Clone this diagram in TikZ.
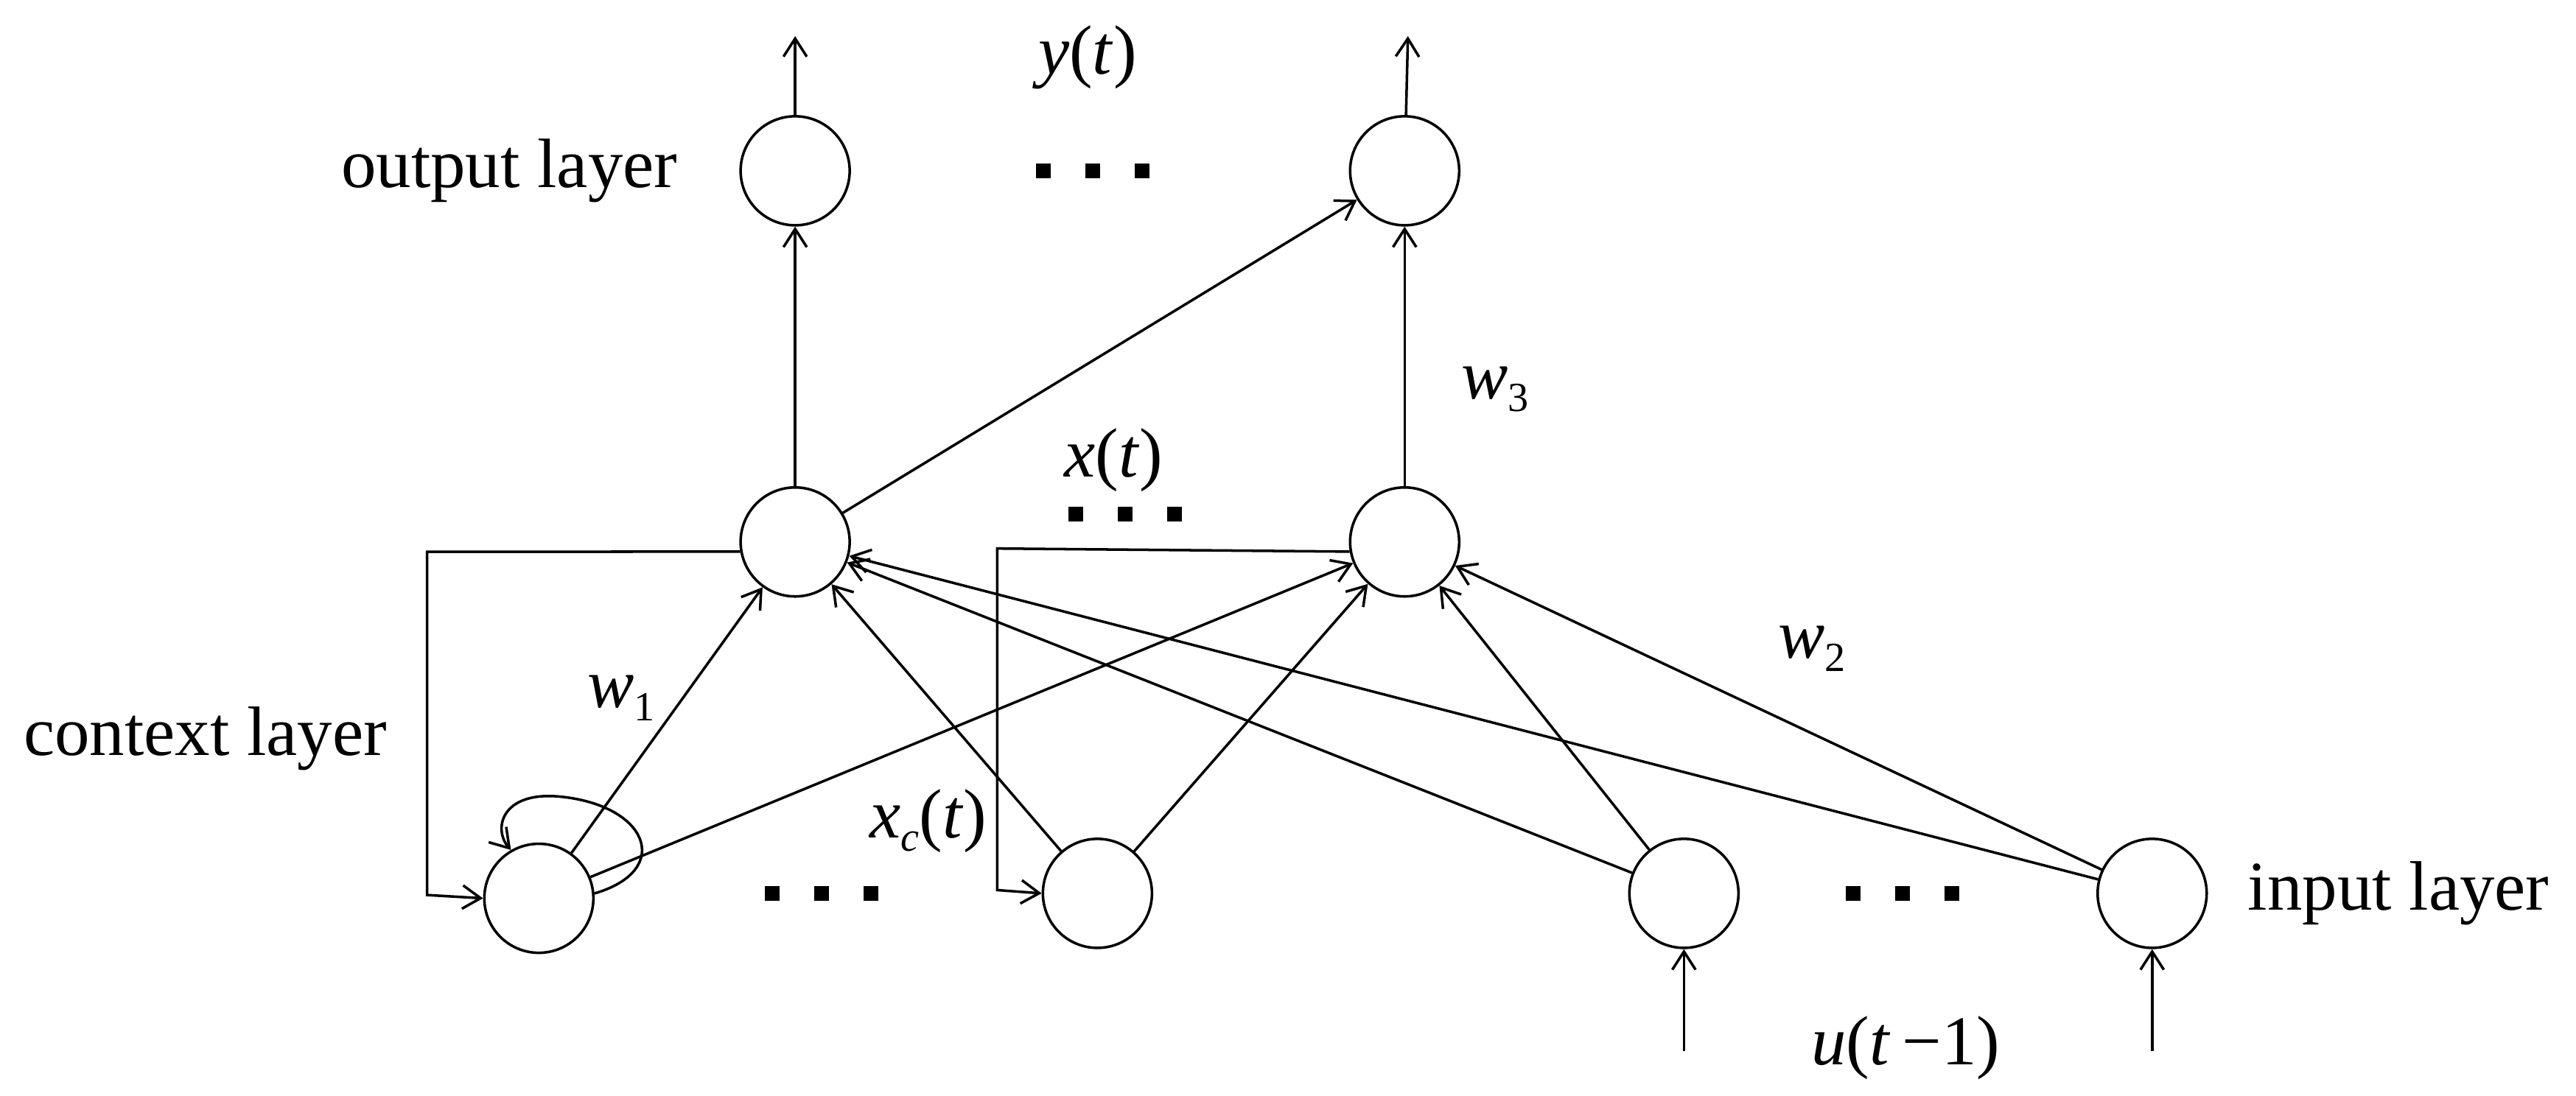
\documentclass[tikz,border=0pt]{standalone}
\usepackage{fontspec}
\setmainfont{Liberation Serif}
\usetikzlibrary{arrows.meta}
\begin{document}
\begin{tikzpicture}[x=0.0223cm,y=-0.0223cm,
 neu/.style={circle,draw,line width=1pt,minimum size=1.48cm,inner sep=0pt},
 arr/.style={line width=1pt,-{Straight Barb[length=7pt,width=9pt]}},
 txt/.style={font=\fontsize{27}{32}\selectfont},
 sub/.style={font=\fontsize{16}{18}\selectfont\itshape}]
\useasboundingbox (0,0) rectangle (1568,667);
\node[neu] (O1) at (484,104) {};
\node[neu] (O2) at (855,104) {};
\node[neu] (H1) at (484,330) {};
\node[neu] (H2) at (855,330) {};
\node[neu] (C1) at (328,547) {};
\node[neu] (C2) at (668,544) {};
\node[neu] (I1) at (1025,544) {};
\node[neu] (I2) at (1310,544) {};
\foreach \cx/\cy in {665/104,685/313,500/544,1158/544}
  \foreach \d in {-30,0,30} \fill (\cx+\d-4.5,\cy-4.5) rectangle (\cx+\d+4.5,\cy+4.5);
\node[txt] at (310,104) {output layer};
\node[txt] at (125,450) {context layer};
\node[txt] at (1460,544) {input layer};
\node[txt] at (662,35) {\textit{y}(\textit{t})};
\node[txt] at (678,280) {\textit{x}(\textit{t})};
\node[txt] at (565,500) {\textit{x}\raisebox{-5pt}{\fontsize{16}{18}\selectfont\itshape c}(\textit{t})};
\node[txt] at (910,237) {\textit{w}\raisebox{-5pt}{\fontsize{16}{18}\selectfont 3}};
\node[txt] at (1103,395) {\textit{w}\raisebox{-5pt}{\fontsize{16}{18}\selectfont 2}};
\node[txt] at (378,425) {\textit{w}\raisebox{-5pt}{\fontsize{16}{18}\selectfont 1}};
\node[txt] at (1160,638) {\textit{u}(\textit{t}\,−1)};
\coordinate (t1) at (484,22); \coordinate (t2) at (857,22);
\coordinate (b1) at (1025,640); \coordinate (b2) at (1310,640);
\draw[arr] (O1) -- (t1);
\draw[arr] (O2) -- (t2);
\draw[arr] (b1) -- (I1);
\draw[arr] (b2) -- (I2);
\draw[arr] (H1) -- (O1);
\draw[arr] (H2) -- (O2);
\draw[arr] (H1) -- (O2);
\foreach \s in {C1,C2,I1,I2} {\draw[arr] (\s) -- (H1); \draw[arr] (\s) -- (H2);}
\draw[arr] (H1.190) -- (260,336) -- (260,545) -- (C1.west);
\draw[arr] (H2.190) -- (607,334) -- (607,542) -- (C2.west);
\draw[arr] (C1.5) .. controls (410,530) and (395,490) .. (340,485) .. controls (305,482) and (300,505) .. (C1.120);
\end{tikzpicture}
\end{document}
